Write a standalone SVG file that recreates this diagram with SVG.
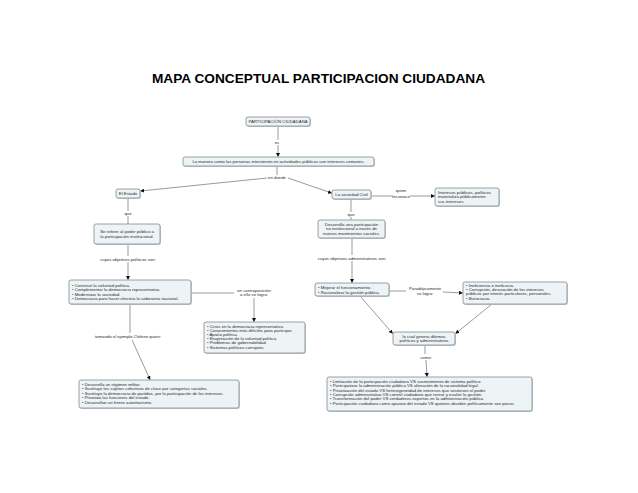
<svg xmlns="http://www.w3.org/2000/svg" width="638" height="493" viewBox="0 0 638 493">
<defs>
<marker id="ah" markerWidth="4" markerHeight="4" refX="3.6" refY="2" orient="auto" markerUnits="userSpaceOnUse">
<path d="M0,0 L4,2 L0,4 Z" fill="#111"/>
</marker>
<style>
.box{fill:#eef3f6;stroke:#7d8a92;stroke-width:0.8}
.sh{fill:#c9cfd3}
.t{font-family:"Liberation Sans",Arial,sans-serif;font-size:4.3px;fill:#2a2a2a}
.c{text-anchor:middle}
.lbl{font-family:"Liberation Sans",Arial,sans-serif;font-size:4.3px;fill:#2a2a2a;text-anchor:middle}
.ln{stroke:#707070;stroke-width:0.7;fill:none}
.ar{marker-end:url(#ah)}
.title{font-family:"Liberation Sans",Arial,sans-serif;font-weight:bold;font-size:13.5px;fill:#000;text-anchor:middle}
</style>
</defs>
<rect width="638" height="493" fill="#fff"/>
<text class="title" x="318.5" y="83" textLength="333" lengthAdjust="spacingAndGlyphs">MAPA CONCEPTUAL PARTICIPACION CIUDADANA</text>

<g id="connectors">
<line class="ln" x1="278" y1="126" x2="278" y2="140"/>
<line class="ln ar" x1="278" y1="145" x2="278" y2="156.6"/>
<line class="ln" x1="277" y1="166" x2="277" y2="175"/>
<line class="ln ar" x1="267" y1="178" x2="140.5" y2="191"/>
<line class="ln ar" x1="288" y1="178" x2="331.6" y2="193"/>
<line class="ln" x1="128" y1="198" x2="128" y2="211"/>
<line class="ln" x1="128" y1="216" x2="128" y2="224"/>
<line class="ln" x1="128" y1="244" x2="128" y2="256"/>
<line class="ln ar" x1="128" y1="262" x2="128" y2="279.6"/>
<line class="ln" x1="191" y1="293" x2="234" y2="293"/>
<line class="ln ar" x1="254" y1="298" x2="254" y2="321.6"/>
<line class="ln" x1="130" y1="304" x2="130" y2="333"/>
<line class="ln ar" x1="132" y1="340" x2="150" y2="379.6"/>
<line class="ln" x1="371" y1="196" x2="393" y2="196"/>
<line class="ln ar" x1="410" y1="196" x2="434.6" y2="196"/>
<line class="ln" x1="351" y1="199" x2="351" y2="212"/>
<line class="ln" x1="351" y1="217" x2="351" y2="220"/>
<line class="ln" x1="352" y1="238" x2="352" y2="255"/>
<line class="ln ar" x1="352" y1="261" x2="352" y2="282.6"/>
<line class="ln" x1="389" y1="291" x2="406" y2="291"/>
<line class="ln ar" x1="443" y1="292" x2="462.6" y2="293"/>
<line class="ln ar" x1="360" y1="296" x2="392.6" y2="333.5"/>
<line class="ln ar" x1="492" y1="304" x2="455.6" y2="333.5"/>
<line class="ln" x1="425" y1="345" x2="425" y2="354"/>
<line class="ln ar" x1="426" y1="360" x2="427" y2="376.6"/>
</g>

<g id="labels">
<text class="lbl" x="277" y="144">es</text>
<text class="lbl" x="277" y="179">en donde</text>
<text class="lbl" x="401" y="191.5">quien</text>
<text class="lbl" x="401" y="197.5">reconoce</text>
<text class="lbl" x="128" y="215">que</text>
<text class="lbl" x="351" y="216">que</text>
<text class="lbl" x="128" y="260.5">cuyos objetivos políticos son:</text>
<text class="lbl" x="352" y="259.5">cuyos objetivos administrativos son:</text>
<text class="lbl" x="254" y="291.5">en contraposición</text>
<text class="lbl" x="254" y="296">a ello se logra:</text>
<text class="lbl" x="425" y="289.5">Paradójicamente</text>
<text class="lbl" x="425" y="294.5">se logra:</text>
<text class="lbl" x="128" y="337.5">tomando el ejemplo Chileno quien:</text>
<text class="lbl" x="426" y="358.5">como:</text>
</g>

<g id="n1">
<rect class="sh" x="247" y="118" width="64" height="9" rx="2"/>
<rect class="box" x="246" y="117" width="64" height="9" rx="2"/>
<text class="t c" x="278" y="123">PARTICIPACIÓN CIUDADANA</text>
</g>
<g id="n2">
<rect class="sh" x="184" y="158" width="191" height="9" rx="2"/>
<rect class="box" x="183" y="157" width="191" height="9" rx="2"/>
<text class="t c" x="278.5" y="163">La manera como las personas intervienen en actividades públicas con intereses comunes.</text>
</g>
<g id="n3">
<rect class="sh" x="117" y="190" width="24" height="9" rx="2"/>
<rect class="box" x="116" y="189" width="24" height="9" rx="2"/>
<text class="t c" x="128" y="195">El Estado</text>
</g>
<g id="n4">
<rect class="sh" x="333" y="191" width="39" height="9" rx="2"/>
<rect class="box" x="332" y="190" width="39" height="9" rx="2"/>
<text class="t c" x="351.5" y="196">La sociedad Civil</text>
</g>
<g id="n5">
<rect class="sh" x="436" y="189" width="64" height="18" rx="2"/>
<rect class="box" x="435" y="188" width="64" height="18" rx="2"/>
<text class="t" x="438" y="193.5">Intereses públicos, políticos</text>
<text class="t" x="438" y="198">materializa públicamente</text>
<text class="t" x="438" y="202.5">sus intereses.</text>
</g>
<g id="n6">
<rect class="sh" x="95" y="225" width="66" height="20" rx="2"/>
<rect class="box" x="94" y="224" width="66" height="20" rx="2"/>
<text class="t c" x="127" y="232.5">Se refiere al poder público a</text>
<text class="t c" x="127" y="237.5">la participación institucional.</text>
</g>
<g id="n7">
<rect class="sh" x="319" y="221" width="67" height="18" rx="2"/>
<rect class="box" x="318" y="220" width="67" height="18" rx="2"/>
<text class="t c" x="351.5" y="225.5">Desarrolla una participación</text>
<text class="t c" x="351.5" y="230">no institucional a través de</text>
<text class="t c" x="351.5" y="234.5">nuevos movimientos sociales.</text>
</g>
<g id="n8">
<rect class="sh" x="70" y="281" width="122" height="24" rx="2"/>
<rect class="box" x="69" y="280" width="122" height="24" rx="2"/>
<text class="t" x="72" y="286.5">• Construir la voluntad política.</text>
<text class="t" x="72" y="291">• Complementar la democracia representativa.</text>
<text class="t" x="72" y="295.5">• Modernizar la sociedad.</text>
<text class="t" x="72" y="300">• Democracia para hacer efectiva la soberanía nacional.</text>
</g>
<g id="n9">
<rect class="sh" x="316" y="284" width="74" height="13" rx="2"/>
<rect class="box" x="315" y="283" width="74" height="13" rx="2"/>
<text class="t" x="318" y="288.5">• Mejorar el funcionamiento.</text>
<text class="t" x="318" y="293.5">• Racionalizar la gestión pública.</text>
</g>
<g id="n10">
<rect class="sh" x="464" y="283" width="104" height="22" rx="2"/>
<rect class="box" x="463" y="282" width="104" height="22" rx="2"/>
<text class="t" x="466" y="287">• Ineficiencia  e ineficacia.</text>
<text class="t" x="466" y="291.2">• Corrupción, desviación de los intereses</text>
<text class="t" x="466" y="295.4">   públicos  por interés particulares, personales.</text>
<text class="t" x="466" y="299.6">• Burocracia.</text>
</g>
<g id="n11">
<rect class="sh" x="205" y="323" width="101" height="31" rx="2"/>
<rect class="box" x="204" y="322" width="101" height="31" rx="2"/>
<text class="t" x="207" y="327.5">• Crisis en la democracia representativa.</text>
<text class="t" x="207" y="331.7">• Conocimientos más difíciles  para participar.</text>
<text class="t" x="207" y="335.9">• Apatía política.</text>
<text class="t" x="207" y="340.1">• Enajenación de la voluntad política.</text>
<text class="t" x="207" y="344.3">• Problemas de gobernabilidad.</text>
<text class="t" x="207" y="348.5">• Sistemas políticos corruptos.</text>
</g>
<g id="n12">
<rect class="sh" x="394" y="333" width="62" height="13" rx="2"/>
<rect class="box" x="393" y="332" width="62" height="13" rx="2"/>
<text class="t c" x="424" y="337.5">lo cual genera dilemas</text>
<text class="t c" x="424" y="342">políticos y administrativos</text>
</g>
<g id="n13">
<rect class="sh" x="80" y="381" width="160" height="28" rx="2"/>
<rect class="box" x="79" y="380" width="160" height="28" rx="2"/>
<text class="t" x="82" y="385.5">• Desarrolla un régimen militar.</text>
<text class="t" x="82" y="390">• Sustituye los sujetos colectivos de clase por categorías sociales.</text>
<text class="t" x="82" y="394.5">• Sustituye  la democracia de partidos, por la participación de los intereses.</text>
<text class="t" x="82" y="399">• Privatiza las funciones del estado.</text>
<text class="t" x="82" y="403.5">• Desarrollan un frente autoritarismo.</text>
</g>
<g id="n14">
<rect class="sh" x="328" y="378" width="205" height="34" rx="2"/>
<rect class="box" x="327" y="377" width="205" height="34" rx="2"/>
<text class="t" x="330" y="382.8">• Limitación de la participación ciudadana VS sostenimiento de sistema político.</text>
<text class="t" x="330" y="387.2">• Participatizar la administración pública VS alteración de la racionalidad legal.</text>
<text class="t" x="330" y="391.6">• Privatización del estado VS heterogeneidad de intereses que sostienen el poder.</text>
<text class="t" x="330" y="396">• Corrupción administrativa VS control ciudadano que revise y evalúe la gestión.</text>
<text class="t" x="330" y="400.4">• Transformación del poder VS verdaderos expertos en la administración pública.</text>
<text class="t" x="330" y="404.8">• Participación ciudadana como aparato del estado VS quienes deciden políticamente son pocos.</text>
</g>
</svg>
